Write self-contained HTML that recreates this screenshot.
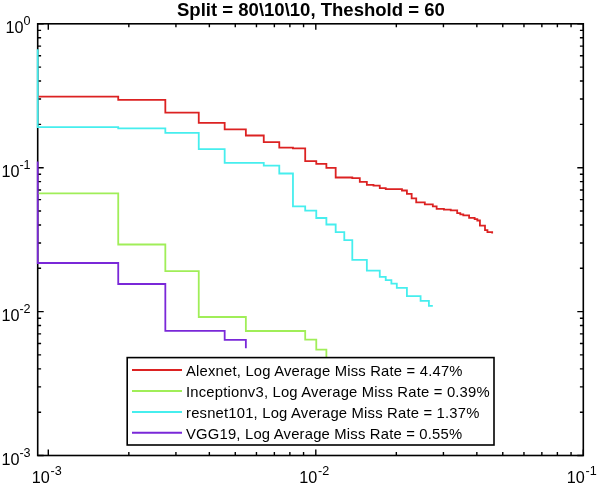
<!DOCTYPE html>
<html><head><meta charset="utf-8"><title>Split = 80\10\10, Theshold = 60</title>
<style>html,body{margin:0;padding:0;background:#fff;width:598px;height:487px;overflow:hidden}svg{display:block}</style>
</head><body>
<svg width="598" height="487" viewBox="0 0 598 487" font-family="'Liberation Sans', Arial, Helvetica, sans-serif" fill="#000">
<rect width="598" height="487" fill="#fff"/>
<rect x="37.7" y="23.8" width="545.60" height="431.70" fill="none" stroke="#000" stroke-width="1.6"/>
<path d="M48.30 455.50V449.50M48.30 23.80V29.80M128.83 455.50V452.10M128.83 23.80V27.20M175.93 455.50V452.10M175.93 23.80V27.20M209.35 455.50V452.10M209.35 23.80V27.20M235.27 455.50V452.10M235.27 23.80V27.20M256.46 455.50V452.10M256.46 23.80V27.20M274.36 455.50V452.10M274.36 23.80V27.20M289.88 455.50V452.10M289.88 23.80V27.20M303.56 455.50V452.10M303.56 23.80V27.20M315.80 455.50V449.50M315.80 23.80V29.80M396.33 455.50V452.10M396.33 23.80V27.20M443.43 455.50V452.10M443.43 23.80V27.20M476.85 455.50V452.10M476.85 23.80V27.20M502.77 455.50V452.10M502.77 23.80V27.20M523.96 455.50V452.10M523.96 23.80V27.20M541.86 455.50V452.10M541.86 23.80V27.20M557.38 455.50V452.10M557.38 23.80V27.20M571.06 455.50V452.10M571.06 23.80V27.20M583.30 455.50V449.50M583.30 23.80V29.80M37.70 455.50H43.70M583.30 455.50H577.30M37.70 412.18H41.10M583.30 412.18H579.90M37.70 386.84H41.10M583.30 386.84H579.90M37.70 368.86H41.10M583.30 368.86H579.90M37.70 354.92H41.10M583.30 354.92H579.90M37.70 343.52H41.10M583.30 343.52H579.90M37.70 333.89H41.10M583.30 333.89H579.90M37.70 325.55H41.10M583.30 325.55H579.90M37.70 318.18H41.10M583.30 318.18H579.90M37.70 311.60H43.70M583.30 311.60H577.30M37.70 268.28H41.10M583.30 268.28H579.90M37.70 242.94H41.10M583.30 242.94H579.90M37.70 224.96H41.10M583.30 224.96H579.90M37.70 211.02H41.10M583.30 211.02H579.90M37.70 199.62H41.10M583.30 199.62H579.90M37.70 189.99H41.10M583.30 189.99H579.90M37.70 181.65H41.10M583.30 181.65H579.90M37.70 174.28H41.10M583.30 174.28H579.90M37.70 167.70H43.70M583.30 167.70H577.30M37.70 124.38H41.10M583.30 124.38H579.90M37.70 99.04H41.10M583.30 99.04H579.90M37.70 81.06H41.10M583.30 81.06H579.90M37.70 67.12H41.10M583.30 67.12H579.90M37.70 55.72H41.10M583.30 55.72H579.90M37.70 46.09H41.10M583.30 46.09H579.90M37.70 37.75H41.10M583.30 37.75H579.90M37.70 30.38H41.10M583.30 30.38H579.90M37.70 23.80H43.70M583.30 23.80H577.30" stroke="#000" stroke-width="1.4" fill="none"/>
<path d="M37.70 96.60 L118.23 96.60 L118.23 99.80 L165.33 99.80 L165.33 112.70 L198.75 112.70 L198.75 122.90 L224.67 122.90 L224.67 129.40 L245.86 129.40 L245.86 135.50 L263.76 135.50 L263.76 142.20 L279.28 142.20 L279.28 147.70 L292.96 147.70 L292.96 148.30 L305.20 148.30 L305.20 161.10 L316.27 161.10 L316.27 163.80 L326.38 163.80 L326.38 167.80 L335.68 167.80 L335.68 177.50 L344.29 177.50 L344.29 177.50 L352.30 177.50 L352.30 178.10 L359.80 178.10 L359.80 181.80 L366.85 181.80 L366.85 184.80 L373.49 184.80 L373.49 185.60 L379.77 185.60 L379.77 188.10 L385.73 188.10 L385.73 189.10 L391.39 189.10 L391.39 189.10 L396.80 189.10 L396.80 189.10 L401.96 189.10 L401.96 190.50 L406.91 190.50 L406.91 193.90 L411.65 193.90 L411.65 198.40 L416.21 198.40 L416.21 202.30 L420.59 202.30 L420.59 202.30 L424.81 202.30 L424.81 204.30 L428.89 204.30 L428.89 204.30 L432.83 204.30 L432.83 206.30 L436.64 206.30 L436.64 208.80 L440.33 208.80 L440.33 208.80 L443.90 208.80 L443.90 209.60 L447.37 209.60 L447.37 209.60 L450.74 209.60 L450.74 210.40 L454.01 210.40 L454.01 210.40 L457.19 210.40 L457.19 213.10 L460.29 213.10 L460.29 214.30 L463.31 214.30 L463.31 215.40 L466.25 215.40 L466.25 215.40 L469.12 215.40 L469.12 217.90 L471.92 217.90 L471.92 217.90 L474.65 217.90 L474.65 219.10 L477.32 219.10 L477.32 220.50 L479.93 220.50 L479.93 225.70 L482.49 225.70 L482.49 225.70 L484.99 225.70 L484.99 230.20 L487.43 230.20 L487.43 232.10 L489.83 232.10 L489.83 232.10 L492.17 232.10 L492.17 233.40" stroke="#dc2222" stroke-width="1.8" fill="none" stroke-linejoin="miter"/><path d="M37.70 193.30 L118.23 193.30 L118.23 244.50 L165.33 244.50 L165.33 271.10 L198.75 271.10 L198.75 317.00 L224.67 317.00 L224.67 317.00 L245.86 317.00 L245.86 331.00 L263.76 331.00 L263.76 331.00 L279.28 331.00 L279.28 331.00 L292.96 331.00 L292.96 331.00 L305.20 331.00 L305.20 339.60 L316.27 339.60 L316.27 349.60 L326.38 349.60 L326.38 380.00" stroke="#a0ee58" stroke-width="1.8" fill="none" stroke-linejoin="miter"/><path d="M37.70 49.20 L37.70 127.20 L118.23 127.20 L118.23 128.40 L165.33 128.40 L165.33 132.80 L198.75 132.80 L198.75 149.20 L224.67 149.20 L224.67 162.90 L245.86 162.90 L245.86 162.90 L263.76 162.90 L263.76 165.60 L279.28 165.60 L279.28 173.50 L292.96 173.50 L292.96 206.30 L305.20 206.30 L305.20 210.60 L316.27 210.60 L316.27 218.00 L326.38 218.00 L326.38 224.50 L335.68 224.50 L335.68 232.20 L344.29 232.20 L344.29 240.20 L352.30 240.20 L352.30 259.90 L359.80 259.90 L359.80 259.90 L366.85 259.90 L366.85 270.70 L373.49 270.70 L373.49 270.70 L379.77 270.70 L379.77 276.90 L385.73 276.90 L385.73 280.20 L391.39 280.20 L391.39 283.60 L396.80 283.60 L396.80 287.80 L401.96 287.80 L401.96 287.80 L406.91 287.80 L406.91 296.20 L411.65 296.20 L411.65 296.20 L416.21 296.20 L416.21 296.20 L420.59 296.20 L420.59 300.90 L424.81 300.90 L424.81 300.90 L428.89 300.90 L428.89 305.90 L432.83 305.90" stroke="#46eeee" stroke-width="1.8" fill="none" stroke-linejoin="miter"/><path d="M37.70 161.50 L37.70 263.00 L118.23 263.00 L118.23 284.00 L165.33 284.00 L165.33 330.90 L198.75 330.90 L198.75 330.90 L224.67 330.90 L224.67 339.80 L245.86 339.80 L245.86 348.30" stroke="#7a28d8" stroke-width="1.8" fill="none" stroke-linejoin="miter"/>
<text x="30.6" y="33.20" text-anchor="end" font-size="16.2">10<tspan font-size="12.6" dy="-8">0</tspan></text><text x="30.6" y="177.10" text-anchor="end" font-size="16.2">10<tspan font-size="12.6" dy="-8">-1</tspan></text><text x="30.6" y="321.00" text-anchor="end" font-size="16.2">10<tspan font-size="12.6" dy="-8">-2</tspan></text><text x="30.6" y="464.90" text-anchor="end" font-size="16.2">10<tspan font-size="12.6" dy="-8">-3</tspan></text><text x="46.80" y="483" text-anchor="middle" font-size="16.2">10<tspan font-size="12.6" dy="-7.6" dx="0.8">-3</tspan></text><text x="314.30" y="483" text-anchor="middle" font-size="16.2">10<tspan font-size="12.6" dy="-7.6" dx="0.8">-2</tspan></text><text x="581.80" y="483" text-anchor="middle" font-size="16.2">10<tspan font-size="12.6" dy="-7.6" dx="0.8">-1</tspan></text>
<text x="310.90" y="16.2" text-anchor="middle" font-size="18.55" font-weight="bold">Split = 80\10\10, Theshold = 60</text>
<rect x="127.2" y="357.6" width="366.80" height="87.40" fill="#fff" stroke="#000" stroke-width="1.6"/><path d="M132 370.00H182" stroke="#dc2222" stroke-width="2"/><text x="186" y="375.90" font-size="14.8" letter-spacing="0.2">Alexnet, Log Average Miss Rate = 4.47%</text><path d="M132 391.00H182" stroke="#a0ee58" stroke-width="2"/><text x="186" y="396.90" font-size="14.8" letter-spacing="0.2">Inceptionv3, Log Average Miss Rate = 0.39%</text><path d="M132 412.10H182" stroke="#46eeee" stroke-width="2"/><text x="186" y="418.00" font-size="14.8" letter-spacing="0.2">resnet101, Log Average Miss Rate = 1.37%</text><path d="M132 432.80H182" stroke="#7a28d8" stroke-width="2"/><text x="186" y="438.70" font-size="14.8" letter-spacing="0.2">VGG19, Log Average Miss Rate = 0.55%</text>
</svg>
</body></html>
